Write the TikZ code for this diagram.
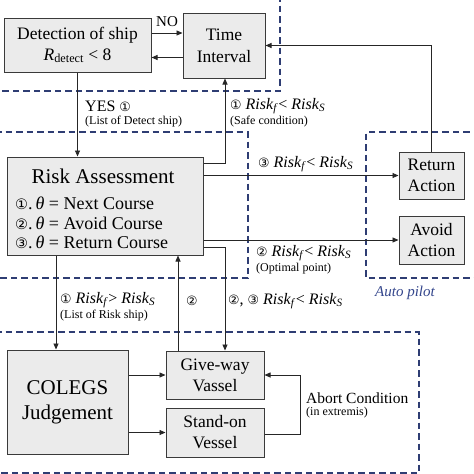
\documentclass[tikz,border=0pt]{standalone}
\usepackage{fontspec}
\setmainfont{Liberation Serif}
\newfontfamily\circfont{DejaVu Sans}
\usetikzlibrary{arrows.meta,calc}
\newcommand\cnum[1]{{\circfont\fontsize{0.8em}{1em}\selectfont #1}}
\newcommand\rsk[1]{\textit{Risk}\textsubscript{\textit{#1}}}
\definecolor{boxfill}{HTML}{EBEBEB}
\definecolor{boxline}{HTML}{3A3A3A}
\definecolor{dashblue}{HTML}{2E3D73}
\definecolor{autoblue}{HTML}{34468C}
\begin{document}
\begin{tikzpicture}[x=1pt,y=-1pt,
  blk/.style={draw=boxline,fill=boxfill,line width=1pt,inner sep=0pt,align=center},
  arr/.style={-{Triangle[length=6pt,width=5pt]},line width=0.8pt,draw=black!85},
  dsh/.style={dash pattern=on 6.5pt off 4pt,line width=1.2pt,draw=dashblue},
  lab/.style={font=\fontsize{16}{18}\selectfont,inner sep=0pt,anchor=west},
  sml/.style={font=\fontsize{12}{14}\selectfont,inner sep=0pt,anchor=west}]
\useasboundingbox (0,0) rectangle (474,474);
\fill[white] (0,0) rectangle (474,474);
% dashed groups
\draw[dsh] (280,-5) -- (280,91) -- (-5,91);
\draw[dsh] (-5,132) -- (248,132) -- (248,278) -- (-5,278);
\draw[dsh] (480,132) -- (366,132) -- (366,278) -- (480,278);
\draw[dsh] (-5,332) -- (419,332) -- (419,473) -- (-5,473);
% boxes
\node[blk,minimum width=147pt,minimum height=54pt,font=\fontsize{17.5}{21}\selectfont] (det) at (77.5,45) {Detection of ship\\\textit{R}\textsubscript{detect} < 8};
\node[blk,minimum width=82pt,minimum height=65pt,font=\fontsize{17.5}{22}\selectfont] (time) at (224,45.5) {Time\\Interval};
\node[blk,minimum width=196pt,minimum height=98pt] (risk) at (105,206) {};
\node[inner sep=0pt,font=\fontsize{21}{24}\selectfont] (risktitle) at (103,176) {Risk Assessment};
\node[inner sep=0pt,anchor=west,align=left,font=\fontsize{18}{19.2}\selectfont] (risklist) at (15,223) {\cnum{①}.\,\textit{θ} = Next Course\\\cnum{②}.\,\textit{θ} = Avoid Course\\\cnum{③}.\,\textit{θ} = Return Course};
\node[blk,minimum width=65pt,minimum height=47pt,font=\fontsize{17.5}{21}\selectfont] (ret) at (431.5,175.5) {Return\\Action};
\node[blk,minimum width=65pt,minimum height=48pt,font=\fontsize{17.5}{21}\selectfont] (avoid) at (431.5,240) {Avoid\\Action};
\node[blk,minimum width=121pt,minimum height=104pt,font=\fontsize{21}{25}\selectfont] (colegs) at (67.5,402) {COLEGS\\Judgement};
\node[blk,minimum width=98pt,minimum height=48pt,font=\fontsize{17.5}{21}\selectfont] (give) at (215,375) {Give-way\\Vassel};
\node[blk,minimum width=98pt,minimum height=49pt,font=\fontsize{17.5}{21}\selectfont] (stand) at (215,432.5) {Stand-on\\Vessel};
% connectors
\draw[arr] ([yshift=12pt]det.east) -- ([yshift=12pt]det.east -| time.west);
\draw[arr] ([yshift=-12pt]time.west) -- ([yshift=-12pt]time.west -| det.east);
\draw[arr] (det.south) -- (det.south |- risk.north);
\draw[arr] ([yshift=-7pt]risk.north east) -| ([xshift=1pt]time.south);
\draw[arr] (ret.north) |- (time.east);
\draw[arr] (risk.east |- ret.west) -- (ret.west);
\draw[arr] (risk.east |- avoid.west) -- (avoid.west);
\draw[arr] ([xshift=-11.5pt]colegs.north |- risk.south) -- ([xshift=-11.5pt]colegs.north);
\draw[arr] ([xshift=-37pt]give.north) -- ([xshift=-37pt]give.north |- risk.south);
\draw[arr] ([yshift=8pt]risk.south east) -| ([xshift=10pt]give.north);
\draw[arr] (colegs.east |- give.west) -- (give.west);
\draw[arr] (colegs.east |- stand.west) -- (stand.west);
\draw[arr] ([yshift=-1.5pt]stand.east) -- ++(36pt,0) |- (give.east);
% labels
\node[lab,font=\fontsize{15}{17}\selectfont] (no) at (156,22) {NO};
\node[lab] (yes) at (85,106) {YES \cnum{①}};
\node[sml] (yessub) at (85,122) {(List of Detect ship)};
\node[lab] (safe) at (230,106) {\cnum{①} \rsk{f}< \rsk{S}};
\node[sml] (safesub) at (230,122) {(Safe condition)};
\node[lab] (l3) at (258,164) {\cnum{③} \rsk{f}< \rsk{S}};
\node[lab] (l2) at (256,253) {\cnum{②} \rsk{f}< \rsk{S}};
\node[sml] (l2sub) at (256,269) {(Optimal point)};
\node[inner sep=0pt,font=\fontsize{15}{17}\selectfont\itshape,text=autoblue] (auto) at (405,293) {Auto pilot};
\node[lab] (l1) at (60,300) {\cnum{①} \rsk{f}> \rsk{S}};
\node[sml] (l1sub) at (60,316) {(List of Risk ship)};
\node[lab] (l2b) at (186,301) {\cnum{②}};
\node[lab] (l23) at (228,301) {\cnum{②}, \cnum{③} \rsk{f}< \rsk{S}};
\node[lab,font=\fontsize{15.5}{17}\selectfont] (abort) at (306,398) {Abort Condition};
\node[sml] (abortsub) at (306,413) {(in extremis)};
\end{tikzpicture}
\end{document}
